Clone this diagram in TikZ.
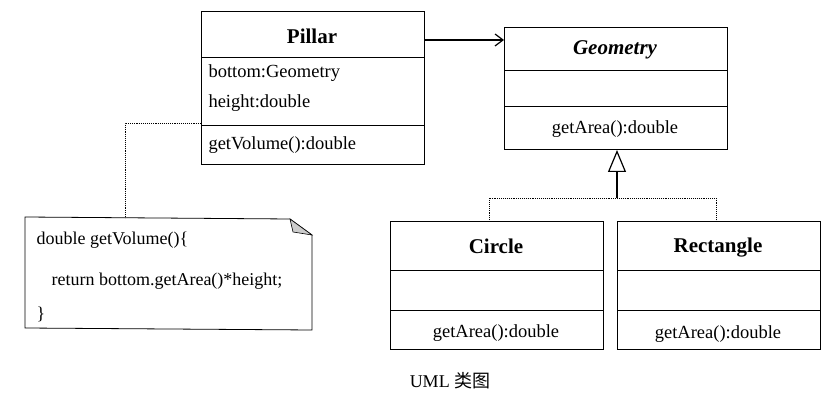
\documentclass[tikz,border=0pt]{standalone}
\usepackage{fontspec}
\setmainfont{Liberation Serif}
\newfontfamily\cjk{Noto Sans CJK SC}
\usetikzlibrary{arrows.meta}
\begin{document}
\begin{tikzpicture}[x=1pt,y=-1pt,
  box/.style={draw,line width=1pt},
  ttl/.style={font=\fontsize{21}{23}\selectfont\bfseries},
  mem/.style={font=\fontsize{18.5}{20}\selectfont,anchor=west},
  memc/.style={font=\fontsize{18.5}{20}\selectfont},
  dot/.style={densely dotted,line width=0.9pt},
  nt/.style={font=\fontsize{18}{20}\selectfont,anchor=west}]
\useasboundingbox (0,0) rectangle (831,403);
% Pillar
\draw[box] (201,12) rectangle (424,165);
\draw[line width=0.8pt] (201,57) -- (424,57) (201,125) -- (424,125);
\node[ttl] (pt) at (312,36) {Pillar};
\node[mem] (pa1) at (205,73) {bottom:Geometry};
\node[mem] (pa2) at (205,103) {height:double};
\node[mem] (pm) at (205,145) {getVolume():double};
\coordinate (pr) at (424,40);
\coordinate (pl) at (201,123);
% Geometry
\draw[box] (504,28) rectangle (727,150);
\draw[line width=0.8pt] (504,70) -- (727,70) (504,106) -- (727,106);
\node[ttl,font=\fontsize{21}{23}\selectfont\bfseries\itshape] (gt) at (615,50) {Geometry};
\node[memc] (gm) at (615,129) {getArea():double};
\coordinate (gl) at (504,40);
\coordinate (gb) at (617,150);
% Circle
\draw[box] (390,222) rectangle (603,350);
\draw[line width=0.8pt] (390,270) -- (603,270) (390,310) -- (603,310);
\node[ttl] (ct) at (496,246) {Circle};
\node[memc] (cm) at (496,333) {getArea():double};
% Rectangle
\draw[box] (617,222) rectangle (820,350);
\draw[line width=0.8pt] (617,270) -- (820,270) (617,310) -- (820,310);
\node[ttl] (rt) at (718,248) {Rectangle};
\node[memc] (rm) at (718,334) {getArea():double};
% association
\draw[line width=1.2pt,-{Straight Barb[length=8pt,width=12pt]}] (pr) -- (gl);
% inheritance
\coordinate (j) at (617,198);
\draw[line width=1.2pt,-{Triangle[open,length=22pt,width=18pt,fill=white]}] (j) -- (gb);
\draw[dot] (489,222) -- (489,198) -- (716,198) -- (716,222);
% note
\draw[line width=0.8pt] (25,217) -- (290,219) -- (312,235) -- (312,330) -- (25,328) -- cycle;
\draw[line width=0.6pt,fill=gray!40] (290,219) -- (293,232) -- (312,235) -- cycle;
\node[nt] (n1) at (33,240) {double getVolume()\{};
\node[nt] (n2) at (48,281) {return bottom.getArea()*height;};
\node[nt] (n3) at (33,314) {\}};
\draw[dot] (pl) -- (125,123) -- (125,218);
% caption
\node[font=\fontsize{18}{20}\selectfont] (cap) at (450,381) {UML {\cjk 类图}};
\end{tikzpicture}
\end{document}
